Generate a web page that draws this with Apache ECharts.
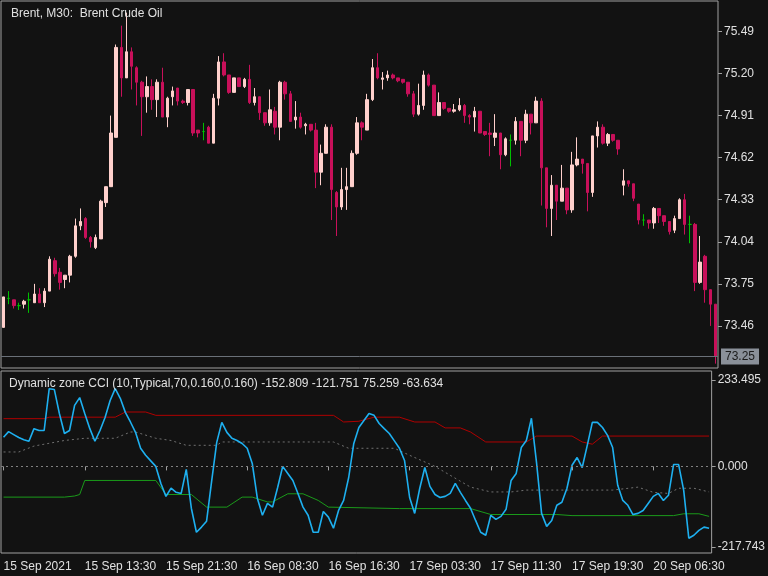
<!DOCTYPE html>
<html><head><meta charset="utf-8">
<script src="https://cdn.jsdelivr.net/npm/echarts@6/dist/echarts.min.js"></script>
<style>html,body{margin:0;padding:0;background:#121212}#c{width:768px;height:576px}</style>
</head><body><div id="c"></div>
<script>
const opens=[73.45,73.65,73.64,73.60,73.61,73.64,73.62,73.68,73.62,73.70,73.91,73.83,73.78,73.81,73.94,74.15,74.20,74.07,74.00,74.06,74.31,74.42,74.76,75.38,75.17,75.35,75.24,75.14,75.04,75.11,75.02,75.14,74.90,75.04,75.10,75.01,75.00,75.09,74.81,74.80,74.83,74.72,75.03,75.28,75.19,75.07,75.17,75.11,75.16,75.00,75.04,74.93,74.86,74.94,74.83,75.14,75.06,74.88,74.90,74.84,74.85,74.81,74.52,74.65,74.83,74.38,74.28,74.40,74.42,74.65,74.86,74.81,75.02,75.24,75.16,75.17,75.19,75.17,75.16,75.14,75.06,74.92,74.98,75.19,75.12,74.91,75.00,74.96,74.94,74.95,74.98,74.91,74.90,74.94,74.80,74.79,74.76,74.79,74.64,74.74,74.74,74.87,74.74,74.92,74.86,75.01,74.55,74.27,74.43,74.32,74.41,74.26,74.57,74.61,74.58,74.38,74.77,74.83,74.72,74.78,74.74,74.43,74.46,74.44,74.30,74.19,74.19,74.17,74.27,74.22,74.18,74.12,74.20,74.33,74.16,74.16,73.76,73.94,73.71,73.61];
const closes=[73.66,73.65,73.60,73.60,73.63,73.64,73.68,73.62,73.70,73.92,73.82,73.76,73.81,73.94,74.15,74.18,74.07,74.04,74.07,74.32,74.42,74.79,75.38,75.17,75.35,75.25,75.14,75.04,75.11,75.02,75.14,74.90,75.03,75.08,75.01,75.00,75.09,74.79,74.79,74.80,74.72,75.03,75.28,75.19,75.07,75.17,75.11,75.16,75.00,75.04,74.93,74.86,74.95,74.83,75.14,75.06,74.87,74.90,74.83,74.85,74.81,74.52,74.65,74.83,74.40,74.28,74.40,74.42,74.65,74.86,74.83,75.02,75.24,75.17,75.17,75.19,75.17,75.15,75.14,75.06,74.92,74.98,75.19,75.12,74.91,75.00,74.96,74.94,74.95,74.98,74.91,74.90,74.94,74.79,74.78,74.78,74.79,74.64,74.75,74.74,74.87,74.74,74.92,74.86,75.01,74.55,74.27,74.43,74.32,74.41,74.26,74.57,74.61,74.58,74.38,74.77,74.83,74.72,74.78,74.74,74.68,74.46,74.44,74.34,74.19,74.19,74.17,74.27,74.22,74.18,74.11,74.20,74.33,74.16,74.16,73.76,73.90,73.71,73.61,73.25];
const lows=[73.45,73.61,73.58,73.57,73.58,73.55,73.62,73.62,73.59,73.70,73.80,73.71,73.72,73.76,73.93,74.12,74.06,74.00,73.99,74.06,74.28,74.42,74.76,75.04,75.17,75.09,74.98,74.77,74.93,74.95,74.90,74.90,74.83,74.98,74.98,74.99,74.98,74.77,74.76,74.74,74.72,74.72,74.98,75.18,75.06,75.07,75.11,75.10,74.99,74.98,74.88,74.84,74.84,74.78,74.74,75.02,74.87,74.82,74.82,74.78,74.80,74.41,74.43,74.65,74.19,74.08,74.26,74.26,74.42,74.64,74.74,74.81,75.01,75.16,75.09,75.15,75.16,75.14,75.13,75.04,74.90,74.91,74.95,75.11,74.91,74.91,74.95,74.93,74.93,74.94,74.86,74.85,74.80,74.79,74.77,74.63,74.70,74.54,74.63,74.56,74.71,74.63,74.72,74.78,74.86,74.29,74.14,74.08,74.19,74.32,74.23,74.24,74.56,74.51,74.25,74.35,74.69,74.71,74.70,74.73,74.64,74.36,74.42,74.32,74.16,74.15,74.13,74.13,74.17,74.15,74.09,74.10,74.20,74.09,74.03,73.70,73.75,73.62,73.46,73.20];
const highs=[73.66,73.70,73.64,73.62,73.64,73.69,73.75,73.72,73.72,73.94,73.93,73.86,73.81,73.95,74.20,74.27,74.21,74.08,74.09,74.33,74.42,74.91,75.40,75.53,75.62,75.38,75.25,75.15,75.18,75.16,75.16,75.24,75.04,75.11,75.10,75.02,75.09,75.09,74.81,74.86,74.84,75.06,75.32,75.34,75.19,75.17,75.17,75.17,75.26,75.10,75.04,74.93,75.09,74.97,75.15,75.15,75.08,75.01,74.93,74.86,74.85,74.86,74.71,74.85,74.85,74.39,74.55,74.55,74.67,74.90,74.87,75.06,75.30,75.34,75.21,75.22,75.20,75.17,75.16,75.14,75.08,75.13,75.22,75.20,75.12,75.07,75.00,74.96,74.99,75.03,74.99,74.92,74.97,74.94,74.80,74.86,74.92,74.79,74.76,74.78,74.90,74.87,74.95,74.92,75.04,75.03,74.55,74.50,74.43,74.57,74.41,74.66,74.76,74.61,74.58,74.77,74.87,74.85,74.79,74.78,74.74,74.54,74.46,74.44,74.30,74.23,74.19,74.28,74.27,74.22,74.18,74.22,74.34,74.37,74.22,74.17,74.08,73.95,73.71,73.61];
const cci=[79,94,86,78,72,68,102,97,97,210,208,143,89,97,165,186,143,102,68,97,132,178,210,184,146,120,92,49,30,15,0,-46,-81,-59,-70,-73,-8,-113,-178,-164,-148,-40,65,119,92,76,70,62,49,8,-86,-132,-100,-110,-57,0,-19,-38,-73,-110,-132,-178,-178,-122,-137,-167,-119,-92,-30,62,105,124,143,138,116,102,89,69,49,16,-84,-127,-59,-3,-54,-76,-84,-81,-73,-46,-70,-92,-113,-146,-178,-186,-132,-143,-135,-116,-38,-19,51,70,130,11,-127,-162,-146,-105,-97,-59,3,24,-3,57,119,119,105,84,51,-51,-92,-105,-130,-127,-119,-100,-81,-73,-92,-78,5,5,-65,-194,-186,-173,-164,-167];
const upperBand=[[0,129],[8,129],[9,133],[22,133],[24,147],[28,147],[30,138],[65,138],[67,120],[70,122],[73,133],[78,133],[81,120],[85,120],[87,104],[90,104],[92,93],[95,66],[103,66],[105,82],[112,82],[114,66],[116,60],[118,82],[139,82]];
const midBand=[[0,39],[3,39],[6,55],[12,70],[16,76],[22,76],[25,93],[26,93],[30,76],[33,70],[36,57],[42,57],[43,66],[65,66],[68,49],[77,49],[80,30],[85,0],[92,-56],[96,-69],[100,-69],[103,-64],[120,-64],[125,-56],[128,-70],[131,-73],[133,-59],[136,-59],[139,-69]];
const lowerBand=[[0,-83],[12,-83],[14,-80],[15,-76],[16,-38],[30,-38],[32,-76],[37,-76],[40,-110],[44,-110],[47,-83],[49,-83],[52,-96],[53,-96],[56,-74],[59,-74],[62,-92],[64,-110],[78,-114],[92,-114],[96,-130],[109,-130],[112,-133],[132,-133],[134,-128],[137,-128],[139,-135]];
const dateLabels={0:'15 Sep 2021',16:'15 Sep 13:30',32:'15 Sep 21:30',48:'16 Sep 08:30',64:'16 Sep 16:30',80:'17 Sep 03:30',96:'17 Sep 11:30',112:'17 Sep 19:30',128:'20 Sep 06:30'};
const priceTicks=[73.46,73.75,74.04,74.33,74.62,74.91,75.20,75.49];
const cciTicks=[-217.743,0,233.495];

const cats=opens.map((_,i)=>dateLabels[i]||('b'+i));
const candles=opens.map((o,i)=>{
  const v=[o,closes[i],lows[i],highs[i]];
  return o===closes[i]?{value:v,itemStyle:{color:'#00c000',color0:'#00c000',borderColor:'#00c000',borderColor0:'#00c000'}}:v;
});
const F='Liberation Sans';
const ch=echarts.init(document.getElementById('c'));
ch.setOption({
  backgroundColor:'#121212',animation:false,
  textStyle:{fontFamily:F},
  title:[{text:'Brent, M30:  Brent Crude Oil',left:6,top:3,textStyle:{color:'#e0e0e0',fontSize:12,fontWeight:'normal',fontFamily:F}},
    {text:'Dynamic zone CCI (10,Typical,70,0.160,0.160) -152.809 -121.751 75.259 -63.634',left:4,top:373,textStyle:{color:'#e0e0e0',fontSize:12,fontWeight:'normal',fontFamily:F}}],
  grid:[{left:1,right:50,top:1,height:367,show:true,borderColor:'#a0a0a0',borderWidth:1,backgroundColor:'transparent'},
        {left:1,right:50,top:371,height:182,show:true,borderColor:'#a0a0a0',borderWidth:1,backgroundColor:'transparent'}],
  xAxis:[{type:'category',data:cats,gridIndex:0,boundaryGap:true,axisLine:{show:false},axisTick:{show:false},axisLabel:{show:false}},
    {type:'category',data:cats,gridIndex:1,boundaryGap:true,axisLine:{show:false},
     axisTick:{show:true,interval:(i)=>i%16===0,alignWithLabel:true,length:4,lineStyle:{color:'#a0a0a0'}},
     axisLabel:{interval:(i)=>i%16===0,formatter:(v)=>v.startsWith('b')?'':v,align:'left',color:'#e0e0e0',fontSize:12,margin:8,fontFamily:F}}],
  yAxis:[{type:'value',gridIndex:0,position:'right',min:73.17,max:75.70,splitLine:{show:false},
      axisLine:{show:false},axisTick:{show:true,customValues:priceTicks,length:4,lineStyle:{color:'#a0a0a0'}},
      axisLabel:{customValues:priceTicks,formatter:(v)=>v.toFixed(2),color:'#e0e0e0',fontSize:12,margin:6,fontFamily:F}},
    {type:'value',gridIndex:1,position:'right',min:-234,max:257.8,splitLine:{show:false},
      axisLine:{show:false},axisTick:{show:true,customValues:cciTicks,length:4,lineStyle:{color:'#a0a0a0'}},
      axisLabel:{customValues:cciTicks,formatter:(v)=>v.toFixed(3),color:'#e0e0e0',fontSize:12,margin:6,fontFamily:F}}],
  series:[
    {type:'candlestick',xAxisIndex:0,yAxisIndex:0,data:candles,barWidth:3,
     itemStyle:{color:'#ffd0cc',color0:'#c8105a',borderColor:'#ffd0cc',borderColor0:'#c8105a',borderWidth:1},
     markLine:{symbol:'none',silent:true,data:[{yAxis:closes[closes.length-1]}],lineStyle:{color:'#6a7078',type:'solid',width:1},
       label:{position:'end',formatter:(p)=>p.value.toFixed(2),backgroundColor:'#8a9099',color:'#1a1a1a',padding:[2,4],fontSize:12,distance:3}}},
    {type:'line',xAxisIndex:1,yAxisIndex:1,data:upperBand,showSymbol:false,lineStyle:{color:'#b00000',width:1}},
    {type:'line',xAxisIndex:1,yAxisIndex:1,data:lowerBand,showSymbol:false,lineStyle:{color:'#1a9a1a',width:1}},
    {type:'line',xAxisIndex:1,yAxisIndex:1,data:midBand,showSymbol:false,lineStyle:{color:'#707070',width:1,type:[2,3]},
     markLine:{symbol:'none',silent:true,label:{show:false},data:[{yAxis:0}],lineStyle:{color:'#808080',width:1,type:[2,3]}}},
    {type:'line',xAxisIndex:1,yAxisIndex:1,data:cci,showSymbol:false,lineStyle:{color:'#1eb0f0',width:1.6}}
  ]
});
</script></body></html>
